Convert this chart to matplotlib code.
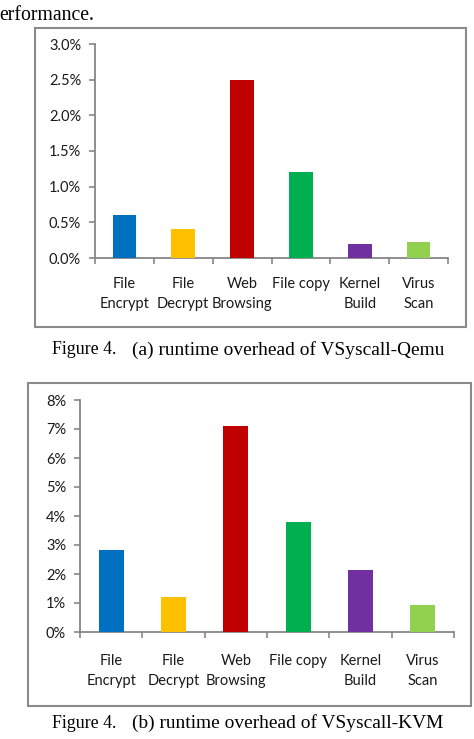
import matplotlib
matplotlib.use('Agg')
import matplotlib.pyplot as plt
from matplotlib.patches import Rectangle
import numpy as np

categories = ["File\nEncrypt", "File\nDecrypt", "Web\nBrowsing", "File copy", "Kernel\nBuild", "Virus\nScan"]
qemu_overhead = [0.6, 0.4, 2.5, 1.2, 0.2, 0.22]
kvm_overhead = [2.82, 1.22, 7.1, 3.8, 2.13, 0.92]
bar_colors = ["#0070C0", "#FFC000", "#C00000", "#00B050", "#7030A0", "#92D050"]
qemu_ticks = [0.0, 0.5, 1.0, 1.5, 2.0, 2.5, 3.0]
kvm_ticks = [0, 1, 2, 3, 4, 5, 6, 7, 8]
caption_a = "(a) runtime overhead of VSyscall-Qemu"
caption_b = "(b) runtime overhead of VSyscall-KVM"

W, H = 474, 739
fig = plt.figure(figsize=(W / 100, H / 100), dpi=100)
fig.patch.set_facecolor('white')


def fx(px):
    return px / W


def fy(py):
    return 1 - py / H


AX_COLOR = '#868686'
SANS = ['Lato', 'DejaVu Sans']
SERIF = ['Liberation Serif', 'DejaVu Serif']
LABEL_COLOR = '#1a1a1a'


def make_panel(rect, values, ticks, fmt, xpad):
    ax = fig.add_axes(rect)
    x = np.arange(len(values))
    ax.bar(x, values, width=0.4, color=bar_colors, zorder=3)
    ax.set_xlim(-0.5, len(values) - 0.5)
    ax.set_ylim(ticks[0], ticks[-1])
    for s in ['top', 'right']:
        ax.spines[s].set_visible(False)
    for s in ['left', 'bottom']:
        ax.spines[s].set_color(AX_COLOR)
        ax.spines[s].set_linewidth(1.3)
    ax.set_yticks(ticks)
    ax.set_yticklabels([fmt(t) for t in ticks], family=SANS, fontsize=10.5, color=LABEL_COLOR)
    ax.set_xticks(x)
    ax.set_xticklabels(categories, family=SANS, fontsize=10.5, color=LABEL_COLOR, linespacing=1.55)
    ax.set_xticks(np.arange(-0.5, len(values), 1.0), minor=True)
    ax.tick_params(axis='x', which='major', length=0, pad=xpad)
    ax.tick_params(axis='x', which='minor', length=4, width=1.2, color=AX_COLOR, direction='out')
    ax.tick_params(axis='y', which='major', length=4, width=1.2, color=AX_COLOR, direction='out', pad=6)
    return ax


ax1 = make_panel([fx(95), fy(258), fx(448) - fx(95), fy(44) - fy(258)],
                 qemu_overhead, qemu_ticks, lambda t: f"{t:.1f}%", 13.5)
ax2 = make_panel([fx(80), fy(632), fx(454) - fx(80), fy(400) - fy(632)],
                 kvm_overhead, kvm_ticks, lambda t: f"{t:d}%", 15.5)

# frames around the charts
for (x0, y0, x1, y1) in [(35, 28, 466, 327), (28, 383, 471, 706)]:
    fig.patches.append(Rectangle((fx(x0), fy(y1)), fx(x1) - fx(x0), fy(y0) - fy(y1),
                                 transform=fig.transFigure, fill=False,
                                 edgecolor='#8a8a8a', linewidth=1.5))

renderer = fig.canvas.get_renderer()


def fitted_size(s, width_px):
    t = fig.text(0, 0, s, family=SERIF, fontsize=13)
    w = t.get_window_extent(renderer=renderer).width
    t.remove()
    return 13 * width_px / w


cap_size = fitted_size(caption_a, 311)

# captions
for y_px, cap in [(350, caption_a), (723, caption_b)]:
    fig.text(fx(52), fy(y_px), "Figure 4.", family=SERIF, fontsize=cap_size * 0.92,
             va='center', ha='left')
    fig.text(fx(132), fy(y_px), cap, family=SERIF, fontsize=cap_size, va='center', ha='left')

# text fragment at the top of the page
fig.text(fx(-1), fy(20.5), "erformance.", family=SERIF, fontsize=cap_size * 1.02,
         va='baseline', ha='left')

fig.savefig('out.png', dpi=100, facecolor='white')
